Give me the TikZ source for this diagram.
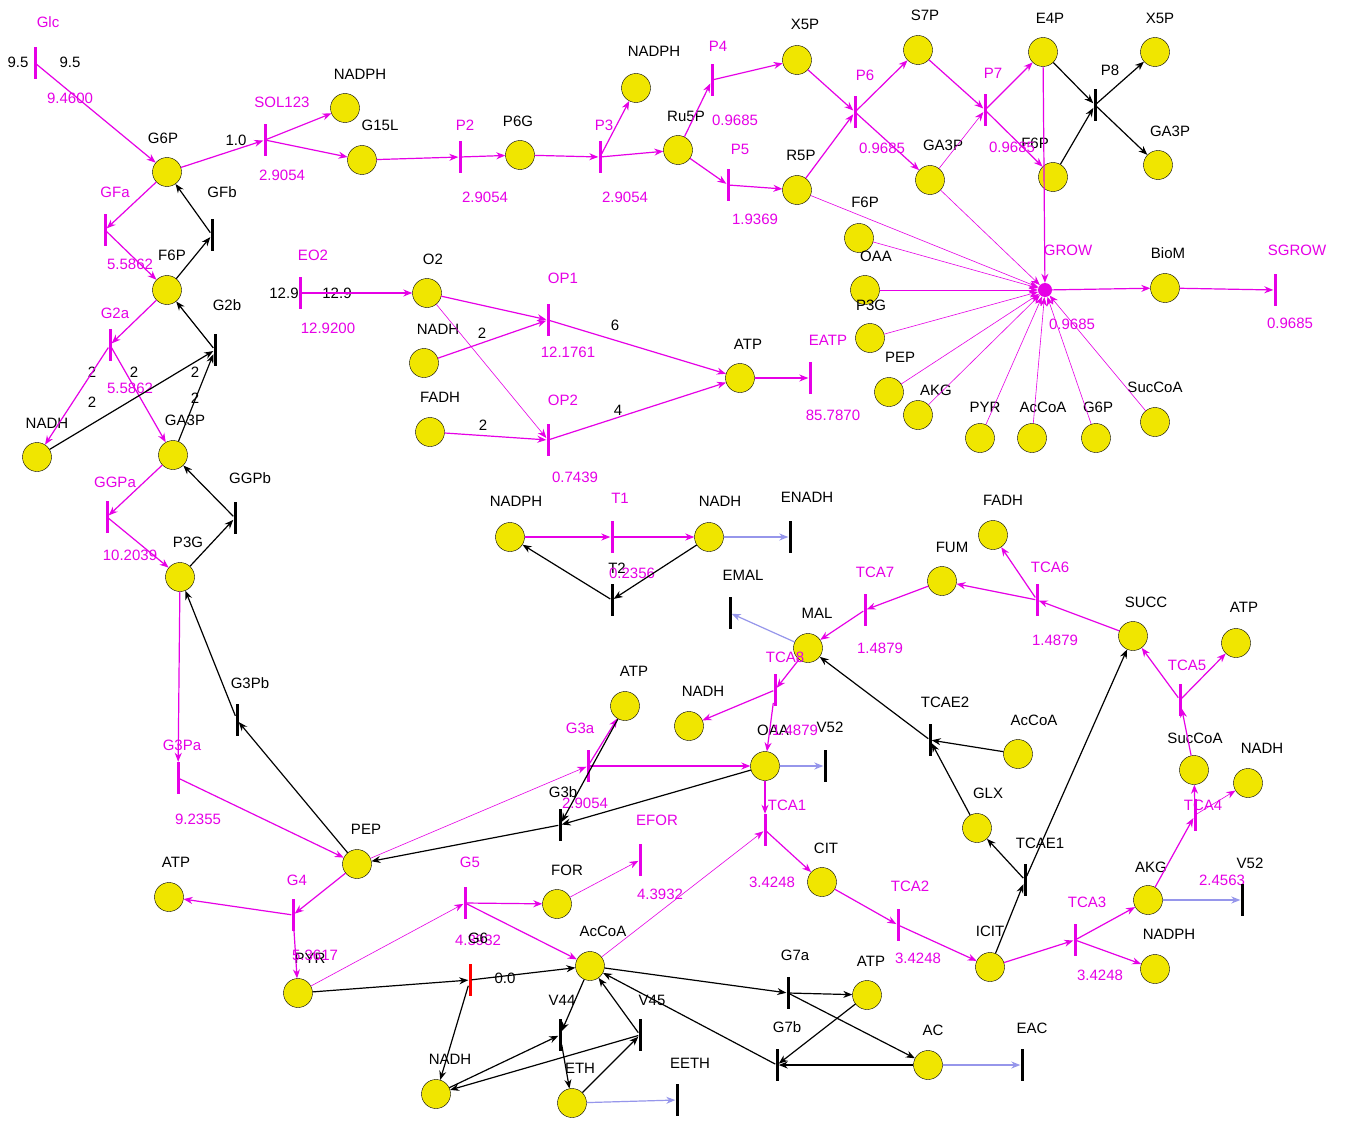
\documentclass[tikz,border=0pt]{standalone}
\usepackage{fontspec}
\setmainfont{Liberation Sans}
\usetikzlibrary{arrows.meta}
\definecolor{mg}{RGB}{230,0,230}
\definecolor{lb}{RGB}{150,150,235}
\definecolor{yl}{RGB}{240,230,0}
\tikzset{
 place/.style={circle,draw=black,fill=yl,minimum size=29pt,inner sep=0pt},
 trm/.style={rectangle,fill=mg,minimum width=3pt,minimum height=32pt,inner sep=0pt},
 trb/.style={rectangle,fill=black,minimum width=3pt,minimum height=32pt,inner sep=0pt},
 trr/.style={rectangle,fill=red,minimum width=3pt,minimum height=32pt,inner sep=0pt},
 lab/.style={font=\fontsize{15}{17}\selectfont,inner sep=0pt},
 mlab/.style={lab,text=mg},
 ma/.style={draw=mg,line width=1.2pt,-{Stealth[length=9pt,width=7pt]}},
 mt/.style={draw=mg,line width=0.6pt,-{Stealth[length=9pt,width=7pt]}},
 bk/.style={draw=black,line width=1.2pt,-{Stealth[length=9pt,width=7pt]}},
 lbl/.style={draw=lb,line width=1.2pt,-{Stealth[length=9pt,width=7pt]}},
}
\newcommand{\pl}[6]{\node[place] (#1) at (#2,#3) {}; \node[lab] at (#5,#6) {#4};}
\newcommand{\tm}[3]{\node[trm] (#1) at (#2,#3) {};}
\newcommand{\tb}[3]{\node[trb] (#1) at (#2,#3) {};}
\begin{document}
\begin{tikzpicture}[x=1pt,y=-1pt]
\useasboundingbox[fill=white] (0,0) rectangle (1363,1129);
% places
\pl{G6P}{167}{172}{G6P}{163}{138}
\pl{F6P}{167}{290}{F6P}{172}{255}
\pl{GA3P}{173}{455}{GA3P}{185}{420}
\pl{P3G}{180}{577}{P3G}{188}{542}
\pl{NADHl}{37}{457}{NADH}{47}{423}
\pl{NADPHa}{345}{108}{NADPH}{360}{74}
\pl{G15L}{362}{160}{G15L}{380}{125}
\pl{P6G}{520}{155}{P6G}{518}{121}
\pl{NADPHb}{636}{88}{NADPH}{654}{51}
\pl{Ru5P}{678}{150}{Ru5P}{686}{116}
\pl{X5Pa}{797}{60}{X5P}{805}{24}
\pl{R5P}{797}{190}{R5P}{801}{155}
\pl{S7P}{918}{50}{S7P}{925}{15}
\pl{GA3Pb}{930}{180}{GA3P}{943}{145}
\pl{E4P}{1043}{52}{E4P}{1050}{18}
\pl{F6Pb}{1053}{177}{F6P}{1035}{143}
\pl{X5Pb}{1155}{52}{X5P}{1160}{18}
\pl{GA3Pc}{1158}{165}{GA3P}{1170}{131}
\pl{F6Pc}{859}{238}{F6P}{865}{202}
\pl{OAAg}{865}{290}{OAA}{876}{256}
\pl{P3Gg}{870}{338}{P3G}{871}{305}
\pl{PEPg}{889}{392}{PEP}{900}{357}
\pl{AKGg}{918}{415}{AKG}{936}{390}
\pl{PYRg}{980}{438}{PYR}{985}{407}
\pl{AcCoAg}{1032}{438}{AcCoA}{1043}{407}
\pl{G6Pg}{1096}{438}{G6P}{1098}{407}
\pl{SucCoAg}{1155}{422}{SucCoA}{1155}{387}
\pl{BioM}{1165}{288}{BioM}{1168}{253}
\pl{O2}{427}{293}{O2}{433}{259}
\pl{NADHo}{424}{363}{NADH}{438}{329}
\pl{FADHo}{430}{432}{FADH}{440}{397}
\pl{ATPo}{740}{378}{ATP}{748}{344}
\pl{NADPHt}{510}{537}{NADPH}{516}{501}
\pl{NADHt}{709}{537}{NADH}{720}{501}
\pl{FADH}{993}{535}{FADH}{1003}{500}
\pl{FUM}{942}{581}{FUM}{952}{547}
\pl{MAL}{808}{648}{MAL}{817}{613}
\pl{SUCC}{1133}{636}{SUCC}{1146}{602}
\pl{ATPs}{1236}{643}{ATP}{1244}{607}
\pl{ATPg}{625}{706}{ATP}{634}{671}
\pl{NADHm}{689}{726}{NADH}{703}{691}
\pl{OAA}{765}{766}{OAA}{773}{730}
\pl{AcCoAe}{1018}{754}{AcCoA}{1034}{720}
\pl{SucCoA}{1194}{770}{SucCoA}{1195}{738}
\pl{NADHk}{1248}{783}{NADH}{1262}{748}
\pl{GLX}{977}{828}{GLX}{988}{793}
\pl{PEP}{357}{864}{PEP}{366}{829}
\pl{ATPp}{169}{897}{ATP}{176}{862}
\pl{CIT}{822}{882}{CIT}{826}{848}
\pl{AKG}{1148}{900}{AKG}{1151}{867}
\pl{FOR}{557}{904}{FOR}{567}{870}
\pl{AcCoA}{590}{966}{AcCoA}{603}{931}
\pl{ICIT}{990}{967}{ICIT}{990}{931}
\pl{NADPHi}{1155}{969}{NADPH}{1169}{934}
\pl{ATPa}{867}{995}{ATP}{871}{961}
\pl{PYR}{298}{993}{PYR}{310}{958}
\pl{AC}{928}{1065}{AC}{933}{1030}
\pl{NADHe}{436}{1094}{NADH}{450}{1059}
\pl{ETH}{572}{1103}{ETH}{580}{1068}
% transitions
\tm{Glc}{35}{63} \node[mlab] at (48,22){Glc}; \node[lab] at (18,62){9.5}; \node[lab] at (70,62){9.5}; \node[mlab] at (70,98){9.4600};
\tm{SOL}{265}{140} \node[mlab] at (282,102){SOL123}; \node[lab] at (236,140){1.0}; \node[mlab] at (282,175){2.9054};
\tm{GFa}{105}{230} \node[mlab] at (115,192){GFa}; \node[mlab] at (130,264){5.5862};
\tb{GFb}{212}{235} \node[lab] at (222,192){GFb};
\tm{G2a}{110}{345} \node[mlab] at (115,313){G2a}; \node[mlab] at (130,388){5.5862};
\tb{G2b}{215}{350} \node[lab] at (227,305){G2b};
\node[lab] at (92,372){2}; \node[lab] at (134,372){2}; \node[lab] at (92,402){2}; \node[lab] at (195,372){2}; \node[lab] at (195,398){2};
\tm{GGPa}{107}{517} \node[mlab] at (115,482){GGPa}; \node[mlab] at (130,555){10.2039};
\tb{GGPb}{235}{518} \node[lab] at (250,478){GGPb};
\tb{G3Pb}{237}{720} \node[lab] at (250,683){G3Pb};
\tm{G3Pa}{178}{778} \node[mlab] at (182,745){G3Pa}; \node[mlab] at (198,819){9.2355};
\tm{EO2}{300}{293} \node[mlab] at (313,255){EO2}; \node[lab] at (284,293){12.9}; \node[lab] at (337,293){12.9}; \node[mlab] at (328,328){12.9200};
\tm{P2}{460}{157} \node[mlab] at (465,125){P2}; \node[mlab] at (485,197){2.9054};
\tm{P3}{600}{157} \node[mlab] at (604,125){P3}; \node[mlab] at (625,197){2.9054};
\tm{P4}{712}{80} \node[mlab] at (718,46){P4}; \node[mlab] at (735,120){0.9685};
\tm{P5}{728}{185} \node[mlab] at (740,149){P5}; \node[mlab] at (755,219){1.9369};
\tm{P6}{855}{112} \node[mlab] at (865,75){P6}; \node[mlab] at (882,148){0.9685};
\tm{P7}{985}{110} \node[mlab] at (993,73){P7}; \node[mlab] at (1012,147){0.9685};
\tb{P8}{1095}{105} \node[lab] at (1110,70){P8};
\tm{OP1}{548}{320} \node[mlab] at (563,278){OP1}; \node[mlab] at (568,352){12.1761}; \node[lab] at (615,325){6}; \node[lab] at (482,333){2};
\tm{OP2}{548}{440} \node[mlab] at (563,400){OP2}; \node[mlab] at (575,477){0.7439}; \node[lab] at (618,410){4}; \node[lab] at (483,425){2};
\tm{EATP}{810}{378} \node[mlab] at (828,340){EATP}; \node[mlab] at (833,415){85.7870};
\node[circle,fill=mg,minimum size=14pt,inner sep=0pt] (GROW) at (1045,290) {}; \node[mlab] at (1068,250){GROW}; \node[mlab] at (1072,324){0.9685};
\tm{SGROW}{1275}{290} \node[mlab] at (1297,250){SGROW}; \node[mlab] at (1290,323){0.9685};
\tm{T1}{612}{537} \node[mlab] at (620,498){T1};
\tb{T2}{612}{600} \node[lab] at (617,568){T2}; \node[mlab] at (632,573){0.2356};
\tb{ENADH}{790}{537} \node[lab] at (807,497){ENADH};
\tb{EMAL}{730}{613} \node[lab] at (743,575){EMAL};
\tm{TCA7}{865}{610} \node[mlab] at (875,572){TCA7}; \node[mlab] at (880,648){1.4879};
\tm{TCA6}{1037}{600} \node[mlab] at (1050,567){TCA6}; \node[mlab] at (1055,640){1.4879};
\tm{TCA8}{775}{690} \node[mlab] at (785,657){TCA8};
\node[mlab] at (795,730){1.4879};
\tm{G3a}{588}{766} \node[mlab] at (580,728){G3a};
\tb{G3b}{560}{825} \node[lab] at (563,792){G3b}; \node[mlab] at (585,803){2.9054};
\tb{V52a}{825}{766} \node[lab] at (830,727){V52};
\tm{TCA1}{765}{830} \node[mlab] at (787,805){TCA1}; \node[mlab] at (772,882){3.4248};
\tb{TCAE2}{930}{740} \node[lab] at (945,702){TCAE2};
\tb{TCAE1}{1025}{880} \node[lab] at (1040,843){TCAE1};
\tm{TCA5}{1180}{700} \node[mlab] at (1187,665){TCA5};
\tm{TCA4}{1195}{815} \node[mlab] at (1203,805){TCA4}; \node[mlab] at (1222,880){2.4563};
\tm{TCA3}{1075}{940} \node[mlab] at (1087,902){TCA3}; \node[mlab] at (1100,975){3.4248};
\tm{TCA2}{898}{925} \node[mlab] at (910,886){TCA2}; \node[mlab] at (918,958){3.4248};
\tb{V52b}{1242}{900} \node[lab] at (1250,863){V52};
\tm{EFOR}{640}{860} \node[mlab] at (657,820){EFOR}; \node[mlab] at (660,894){4.3932};
\tm{G5}{465}{903} \node[mlab] at (470,862){G5}; \node[mlab] at (478,940){4.3932};
\tm{G4}{293}{915} \node[mlab] at (297,880){G4}; \node[mlab] at (315,955){5.3617};
\node[trr] (G6) at (470,980) {}; \node[lab] at (478,938){G6}; \node[lab] at (505,978){0.0};
\tb{G7a}{788}{993} \node[lab] at (795,955){G7a};
\tb{G7b}{777}{1065} \node[lab] at (787,1027){G7b};
\tb{V44}{560}{1035} \node[lab] at (562,1000){V44};
\tb{V45}{640}{1035} \node[lab] at (652,1000){V45};
\tb{EETH}{677}{1100} \node[lab] at (690,1063){EETH};
\tb{EAC}{1022}{1065} \node[lab] at (1032,1028){EAC};
% arcs
\draw[ma] (Glc)--(G6P); \draw[ma] (G6P)--(SOL); \draw[ma] (SOL)--(NADPHa); \draw[ma] (SOL)--(G15L);
\draw[ma] (G15L)--(P2); \draw[ma] (P2)--(P6G); \draw[ma] (P6G)--(P3); \draw[ma] (P3)--(NADPHb); \draw[ma] (P3)--(Ru5P);
\draw[ma] (Ru5P)--(P4); \draw[ma] (P4)--(X5Pa); \draw[ma] (Ru5P)--(P5); \draw[ma] (P5)--(R5P);
\draw[ma] (X5Pa)--(P6); \draw[ma] (R5P)--(P6); \draw[ma] (P6)--(S7P); \draw[ma] (P6)--(GA3Pb);
\draw[ma] (S7P)--(P7); \draw[mt] (GA3Pb)--(P7); \draw[ma] (P7)--(E4P); \draw[ma] (P7)--(F6Pb);
\draw[bk] (E4P)--(P8); \draw[bk] (F6Pb)--(P8); \draw[bk] (P8)--(X5Pb); \draw[bk] (P8)--(GA3Pc);
\draw[ma] (G6P)--(GFa); \draw[ma] (GFa)--(F6P); \draw[bk] (F6P)--(GFb); \draw[bk] (GFb)--(G6P);
\draw[ma] (F6P)--(G2a); \draw[ma] (G2a)--(GA3P); \draw[ma] (G2a)--(NADHl);
\draw[bk] (GA3P)--(G2b); \draw[bk] (NADHl)--(G2b); \draw[bk] (G2b)--(F6P);
\draw[ma] (GA3P)--(GGPa); \draw[ma] (GGPa)--(P3G); \draw[bk] (P3G)--(GGPb); \draw[bk] (GGPb)--(GA3P);
\draw[ma] (P3G)--(G3Pa); \draw[ma] (G3Pa)--(PEP); \draw[bk] (PEP)--(G3Pb); \draw[bk] (G3Pb)--(P3G);
\draw[ma] (EO2)--(O2); \draw[ma] (O2)--(OP1); \draw[ma] (NADHo)--(OP1); \draw[ma] (OP1)--(ATPo);
\draw[mt] (O2)--(OP2); \draw[ma] (FADHo)--(OP2); \draw[ma] (OP2)--(ATPo); \draw[ma] (ATPo)--(EATP);
\foreach \s in {R5P,F6Pc,OAAg,P3Gg,PEPg,AKGg,PYRg,AcCoAg,G6Pg,SucCoAg,GA3Pb}{\draw[mt] (\s)--(GROW);}
\draw[ma] (E4P)--(GROW); \draw[ma] (GROW)--(BioM); \draw[ma] (BioM)--(SGROW);
\draw[ma] (NADPHt)--(T1); \draw[ma] (T1)--(NADHt); \draw[lbl] (NADHt)--(ENADH);
\draw[bk] (NADHt)--(T2); \draw[bk] (T2)--(NADPHt);
\draw[lbl] (MAL)--(EMAL); \draw[ma] (FUM)--(TCA7); \draw[ma] (TCA7)--(MAL);
\draw[ma] (SUCC)--(TCA6); \draw[ma] (TCA6)--(FUM); \draw[ma] (TCA6)--(FADH);
\draw[ma] (MAL)--(TCA8); \draw[ma] (TCA8)--(OAA); \draw[ma] (TCA8)--(NADHm);
\draw[mt] (PEP)--(G3a); \draw[ma] (G3a)--(ATPg); \draw[ma] (G3a)--(OAA);
\draw[bk] (OAA)--(G3b); \draw[bk] (ATPg)--(G3b); \draw[bk] (G3b)--(PEP); \draw[lbl] (OAA)--(V52a);
\draw[ma] (OAA)--(TCA1); \draw[mt] (AcCoA)--(TCA1); \draw[ma] (TCA1)--(CIT);
\draw[ma] (CIT)--(TCA2); \draw[ma] (TCA2)--(ICIT); \draw[ma] (ICIT)--(TCA3); \draw[ma] (TCA3)--(AKG); \draw[ma] (TCA3)--(NADPHi);
\draw[ma] (AKG)--(TCA4); \draw[ma] (TCA4)--(SucCoA); \draw[mt] (TCA4)--(NADHk);
\draw[ma] (SucCoA)--(TCA5); \draw[ma] (TCA5)--(SUCC); \draw[ma] (TCA5)--(ATPs); \draw[lbl] (AKG)--(V52b);
\draw[bk] (ICIT)--(TCAE1); \draw[bk] (TCAE1)--(SUCC); \draw[bk] (TCAE1)--(GLX);
\draw[bk] (GLX)--(TCAE2); \draw[bk] (AcCoAe)--(TCAE2); \draw[bk] (TCAE2)--(MAL);
\draw[ma] (PEP)--(G4); \draw[ma] (G4)--(ATPp); \draw[ma] (G4)--(PYR);
\draw[mt] (PYR)--(G5); \draw[ma] (G5)--(FOR); \draw[ma] (G5)--(AcCoA); \draw[mt] (FOR)--(EFOR);
\draw[bk] (PYR)--(G6); \draw[bk] (G6)--(AcCoA); \draw[bk] (G6)--(NADHe);
\draw[bk] (AcCoA)--(G7a); \draw[bk] (G7a)--(ATPa); \draw[bk] (G7a)--(AC);
\draw[bk] (AC)--(G7b); \draw[bk] (ATPa)--(G7b); \draw[bk] (G7b)--(AcCoA);
\draw[bk] (AcCoA)--(V44); \draw[bk] (NADHe)--(V44); \draw[bk] (V44)--(ETH);
\draw[bk] (ETH)--(V45); \draw[bk] (V45)--(NADHe); \draw[bk] (V45)--(AcCoA);
\draw[lbl] (ETH)--(EETH); \draw[lbl] (AC)--(EAC);
\end{tikzpicture}
\end{document}
